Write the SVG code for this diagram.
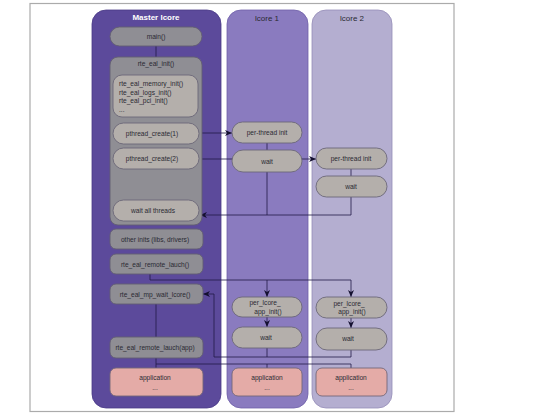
<svg xmlns="http://www.w3.org/2000/svg" width="554" height="415" viewBox="0 0 554 415">
<style>
text{font-family:"Liberation Sans",Arial,sans-serif;font-size:6.6px;fill:#2a2a33;text-anchor:middle}
.title{font-size:8px}
.mt{fill:#ffffff;font-weight:bold}
.box{fill:#8f8e94;stroke:#635f72;stroke-width:0.9}
.lbox{fill:#b4afab;stroke:#6c6878;stroke-width:0.9}
.app{fill:#e4aba7;stroke:#756878;stroke-width:0.9}
.conn{fill:none;stroke:#221a48;stroke-width:0.8}
.l{text-anchor:start}
</style>
<defs>
<marker id="ah" markerUnits="userSpaceOnUse" markerWidth="7" markerHeight="6" refX="7" refY="3" orient="auto">
<path d="M0,0 L7,3 L0,6 L2,3 z" fill="#141030"/>
</marker>
</defs>
<rect x="30" y="3.5" width="424" height="408" fill="#ffffff" stroke="#ababab" stroke-width="1.2"/>
<g id="col-master">
<rect x="92" y="10" width="129" height="398" rx="14" fill="#5c4a9b" stroke="#4a3a86" stroke-width="0.8"/>
<text class="title mt" x="156" y="20">Master lcore</text>
</g>
<g id="col-lcore1">
<rect x="227" y="10" width="81" height="398" rx="14" fill="#8a7bbf" stroke="#6e5fa8" stroke-width="0.8"/>
<text class="title" x="267" y="21">lcore 1</text>
</g>
<g id="col-lcore2">
<rect x="312" y="10" width="80" height="398" rx="14" fill="#b4aed0" stroke="#958db8" stroke-width="0.8"/>
<text class="title" x="352" y="21">lcore 2</text>
</g>
<g id="connectors">
<path class="conn" d="M156,46 V57"/>
<path class="conn" d="M199,133 H232" marker-end="url(#ah)"/>
<path class="conn" d="M199,159 H316" marker-end="url(#ah)"/>
<path class="conn" d="M267,143 V150"/>
<path class="conn" d="M351,169 V176"/>
<path class="conn" d="M267,172 V215"/>
<path class="conn" d="M351,197 V215 H200" marker-end="url(#ah)"/>
<path class="conn" d="M150,274 V280 H351 V297" marker-end="url(#ah)"/>
<path class="conn" d="M267,280 V297" marker-end="url(#ah)"/>
<path class="conn" d="M267,317 V327" marker-end="url(#ah)"/>
<path class="conn" d="M351,317 V328" marker-end="url(#ah)"/>
<path class="conn" d="M351,350 V357 H214 V294 H203" marker-end="url(#ah)"/>
<path class="conn" d="M267,348 V357"/>
<path class="conn" d="M156,304 V337"/>
<path class="conn" d="M156,358 V368"/>
<path class="conn" d="M156,364 H351 V368"/>
<path class="conn" d="M267,364 V368"/>
</g>
<g id="main">
<rect class="box" x="110" y="27" width="92" height="19" rx="9.5"/>
<text x="156" y="38.5">main()</text>
</g>
<g id="rte_eal_init">
<rect class="box" x="110" y="57" width="92" height="168" rx="8"/>
<text x="156" y="66">rte_eal_init()</text>
</g>
<g id="init-subcalls">
<rect class="lbox" x="113" y="75" width="85" height="42" rx="9"/>
<text class="l" x="119" y="86">rte_eal_memory_init()</text>
<text class="l" x="119" y="94.5">rte_eal_logs_init()</text>
<text class="l" x="119" y="103">rte_eal_pci_init()</text>
<text class="l" x="119" y="111.5">...</text>
</g>
<g id="pthread_create1">
<rect class="lbox" x="113" y="123" width="86" height="21" rx="10.5"/>
<text x="152" y="135.5">pthread_create(1)</text>
</g>
<g id="pthread_create2">
<rect class="lbox" x="113" y="148" width="86" height="21" rx="10.5"/>
<text x="152" y="160.5">pthread_create(2)</text>
</g>
<g id="wait_all_threads">
<rect class="lbox" x="113" y="200" width="86" height="21" rx="10.5"/>
<text x="153" y="213">wait all threads</text>
</g>
<g id="other_inits">
<rect class="box" x="110" y="229" width="93" height="20" rx="6"/>
<text x="155" y="241.5">other inits (libs, drivers)</text>
</g>
<g id="remote_launch">
<rect class="box" x="110" y="254" width="93" height="20" rx="6"/>
<text x="155" y="266.5">rte_eal_remote_lauch()</text>
</g>
<g id="mp_wait_lcore">
<rect class="box" x="110" y="284" width="93" height="20" rx="6"/>
<text x="155" y="296.5">rte_eal_mp_wait_lcore()</text>
</g>
<g id="remote_launch_app">
<rect class="box" x="110" y="337" width="93" height="21" rx="6"/>
<text x="155" y="349.5">rte_eal_remote_lauch(app)</text>
</g>
<g id="master_application">
<rect class="app" x="110" y="368" width="93" height="28" rx="6"/>
<text x="155" y="380">application</text>
<text x="155" y="390">...</text>
</g>
<g id="l1_per_thread_init">
<rect class="lbox" x="232" y="122" width="70" height="21" rx="10.5"/>
<text x="267" y="135">per-thread init</text>
</g>
<g id="l1_wait">
<rect class="lbox" x="232" y="150" width="70" height="22" rx="11"/>
<text x="267" y="163.5">wait</text>
</g>
<g id="l2_per_thread_init">
<rect class="lbox" x="316" y="148" width="71" height="21" rx="10.5"/>
<text x="351" y="161">per-thread init</text>
</g>
<g id="l2_wait">
<rect class="lbox" x="316" y="176" width="71" height="21" rx="10.5"/>
<text x="351" y="189">wait</text>
</g>
<g id="l1_per_lcore_app_init">
<rect class="lbox" x="232" y="297" width="70" height="20" rx="10"/>
<text x="265" y="305">per_lcore_</text>
<text x="268" y="313.5">app_init()</text>
</g>
<g id="l1_wait2">
<rect class="lbox" x="232" y="327" width="70" height="21" rx="10.5"/>
<text x="266" y="339.5">wait</text>
</g>
<g id="l2_per_lcore_app_init">
<rect class="lbox" x="316" y="297" width="71" height="21" rx="10.5"/>
<text x="349" y="305.5">per_lcore_</text>
<text x="352" y="314">app_init()</text>
</g>
<g id="l2_wait2">
<rect class="lbox" x="316" y="328" width="71" height="22" rx="11"/>
<text x="348" y="341">wait</text>
</g>
<g id="l1_application">
<rect class="app" x="232" y="368" width="70" height="28" rx="6"/>
<text x="267" y="380">application</text>
<text x="267" y="390">...</text>
</g>
<g id="l2_application">
<rect class="app" x="316" y="368" width="71" height="28" rx="6"/>
<text x="351" y="380">application</text>
<text x="351" y="390">...</text>
</g>
</svg>
